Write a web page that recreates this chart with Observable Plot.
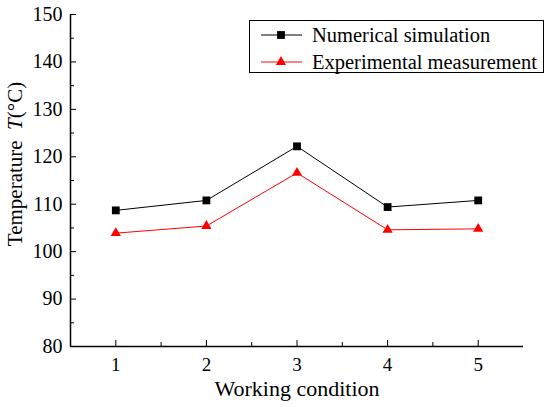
<!DOCTYPE html>
<html>
<head>
<meta charset="utf-8">
<script src="https://cdn.jsdelivr.net/npm/d3@7"></script>
<script src="https://cdn.jsdelivr.net/npm/@observablehq/plot@0.6"></script>
<style>
  body { margin: 0; background: #fff; }
  #chart { width: 550px; height: 407px; }
  #chart svg, #chart svg text { font-family: "Liberation Serif", "Times New Roman", serif !important; }
  #chart svg g[aria-label="y-axis tick label"] text { font-size: 20px; font-variant-numeric: normal; }
  #chart svg g[aria-label="x-axis tick label"] text { font-size: 19px; font-variant-numeric: normal; }
</style>
</head>
<body>
<div id="chart"></div>
<script>
const conditions = [1, 2, 3, 4, 5];
const numerical = [108.7, 110.8, 122.2, 109.4, 110.8];
const experimental = [103.9, 105.4, 116.6, 104.6, 104.8];
const xTicks = [1, 2, 3, 4, 5];
const xMinor = [1.5, 2.5, 3.5, 4.5];
const yTicks = [80, 90, 100, 110, 120, 130, 140, 150];
const yMinor = [85, 95, 105, 115, 125, 135, 145];

const numData = conditions.map((c, i) => ({c, t: numerical[i]}));
const expData = conditions.map((c, i) => ({c, t: experimental[i]}));

const chart = Plot.plot({
  width: 550,
  height: 407,
  marginLeft: 70,
  marginRight: 27,
  marginTop: 14,
  marginBottom: 61,
  style: {
    fontFamily: "Liberation Serif",
    fontSize: "20px",
    color: "black",
    background: "white",
    overflow: "visible"
  },
  x: {domain: [0.5, 5.5]},
  y: {domain: [80, 150]},
  marks: [
    Plot.axisY(yTicks, {tickSize: -6, tickPadding: 14, label: null, fontSize: 20}),
    Plot.axisY(yMinor, {tickSize: -4, text: null, label: null}),
    Plot.axisX(xTicks, {tickSize: -6, tickPadding: 17, label: null, fontSize: 19}),
    Plot.axisX(xMinor, {tickSize: -4, text: null, label: null}),
    Plot.ruleX([0.5], {stroke: "black", strokeWidth: 1.5}),
    Plot.ruleY([80], {stroke: "black", strokeWidth: 1.5}),
    Plot.line(numData, {x: "c", y: "t", stroke: "black", strokeWidth: 1}),
    Plot.dot(numData, {x: "c", y: "t", symbol: "square", r: 4.4, fill: "black"}),
    Plot.line(expData, {x: "c", y: "t", stroke: "red", strokeWidth: 1}),
    Plot.dot(expData, {x: "c", y: "t", symbol: "triangle", r: 3.8, fill: "red"})
  ]
});

d3.select("#chart").append(() => chart);

const svg = d3.select(chart);

// axis titles
svg.append("text")
  .attr("x", 297).attr("y", 396)
  .attr("text-anchor", "middle")
  .attr("font-size", 22)
  .text("Working condition");

const yl = svg.append("text")
  .attr("transform", "translate(22,164) rotate(-90)")
  .attr("text-anchor", "middle")
  .attr("font-size", 21);
yl.append("tspan").text("Temperature\u00a0\u00a0");
yl.append("tspan").attr("font-style", "italic").text("T");
yl.append("tspan").text("(°C)");

// legend
const lg = svg.append("g");
lg.append("rect")
  .attr("x", 249.5).attr("y", 20.5).attr("width", 294).attr("height", 52)
  .attr("fill", "white").attr("stroke", "black").attr("stroke-width", 1);
const items = [
  {label: "Numerical simulation", color: "black", symbol: d3.symbolSquare, size: 61, y: 35},
  {label: "Experimental measurement", color: "red", symbol: d3.symbolTriangle, size: 45, y: 62}
];
items.forEach(it => {
  lg.append("line")
    .attr("x1", 261).attr("x2", 302).attr("y1", it.y).attr("y2", it.y)
    .attr("stroke", it.color).attr("stroke-width", 1);
  lg.append("path")
    .attr("transform", `translate(281,${it.y})`)
    .attr("d", d3.symbol(it.symbol, it.size)())
    .attr("fill", it.color);
  lg.append("text")
    .attr("x", 312).attr("y", it.y).attr("dy", "0.35em")
    .attr("text-anchor", "start")
    .attr("font-size", 20.5)
    .text(it.label);
});
</script>
</body>
</html>
